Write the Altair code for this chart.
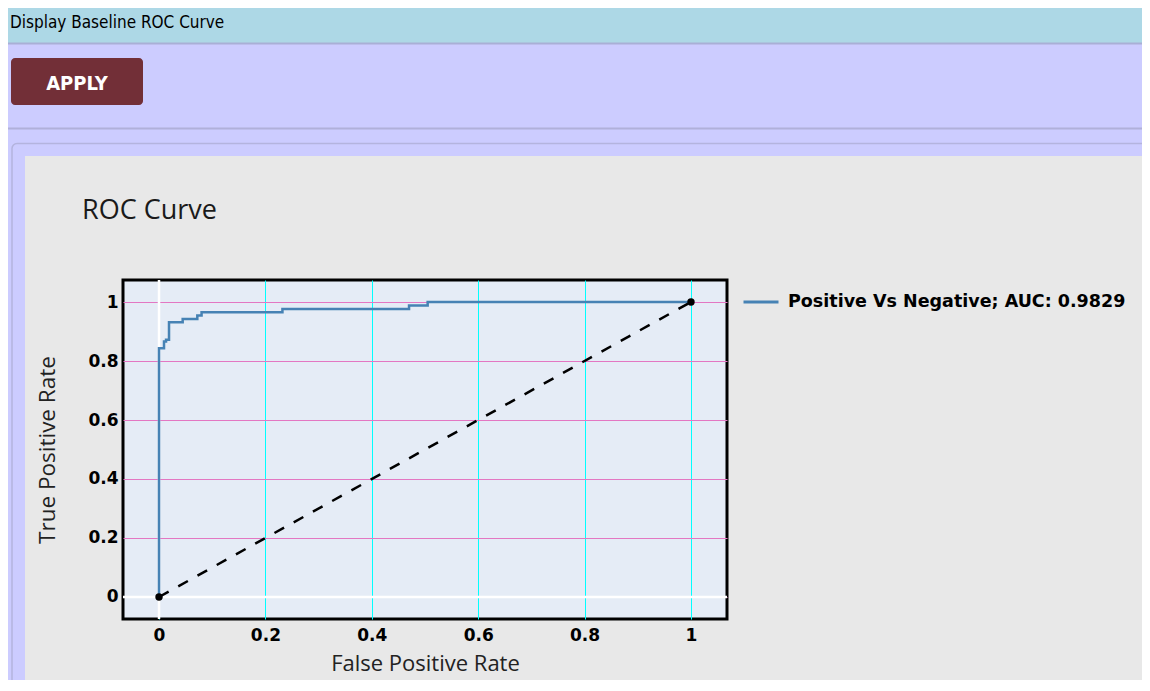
import altair as alt
import pandas as pd

# ---- data ----
fpr = [0.0, 0.0, 0.0094, 0.0094, 0.0132, 0.0132, 0.0188, 0.0188, 0.0445, 0.0445,
       0.072, 0.072, 0.080, 0.080, 0.232, 0.232, 0.470, 0.470, 0.505, 0.505, 1.0]
tpr = [0.0, 0.843, 0.843, 0.866, 0.866, 0.872, 0.872, 0.931, 0.931, 0.942,
       0.942, 0.954, 0.954, 0.965, 0.965, 0.976, 0.976, 0.988, 0.988, 1.0, 1.0]
diag_x = [0.0, 1.0]
diag_y = [0.0, 1.0]
x_ticks = [0, 0.2, 0.4, 0.6, 0.8, 1]
y_ticks = [0, 0.2, 0.4, 0.6, 0.8, 1]
series_label = "Positive Vs Negative; AUC: 0.9829"
chart_title = "ROC Curve"
x_title = "False Positive Rate"
y_title = "True Positive Rate"
header_text = "Display Baseline ROC Curve"
button_text = "APPLY"

roc = pd.DataFrame({"x": fpr, "y": tpr, "i": list(range(len(fpr))), "s": series_label})
diag = pd.DataFrame({"x": diag_x, "y": diag_y})
zero_x = pd.DataFrame({"x": [0.0]})
zero_y = pd.DataFrame({"y": [0.0]})
one = pd.DataFrame({"a": [0]})

# ---- layout constants (page px -> plot-relative px) ----
OX, OY = 123, 280
W, H = 604, 339

LAV = "#CCCCFF"
GRAY = "#E8E8E8"
COND = "DejaVu Sans Condensed, Liberation Sans Narrow, DejaVu Sans, sans-serif"

xscale = alt.Scale(domain=[-0.0677, 1.0677], nice=False, zero=False)
yscale = alt.Scale(domain=[-0.0746, 1.0746], nice=False, zero=False)
xaxis = alt.Axis(values=x_ticks, format="~g", title=x_title, grid=True, gridColor="#00FFFF",
                 gridWidth=1, ticks=False, domain=False, labelFont="DejaVu Sans",
                 labelFontWeight="bold", labelFontSize=17, labelColor="black", labelPadding=8,
                 titleFont="Open Sans", titleFontSize=22, titleFontWeight="normal",
                 titleColor="#222222", titlePadding=10)
yaxis = alt.Axis(values=y_ticks, format="~g", title=y_title, grid=True, gridColor="#E377C2",
                 gridWidth=1, ticks=False, domain=False, labelFont="DejaVu Sans",
                 labelFontWeight="bold", labelFontSize=17, labelColor="black", labelPadding=5,
                 titleFont="Open Sans", titleFontSize=22.5, titleFontWeight="normal",
                 titleColor="#222222", titlePadding=28)


def X(f="x"):
    return alt.X(f"{f}:Q", scale=xscale, axis=xaxis)


def Y(f="y"):
    return alt.Y(f"{f}:Q", scale=yscale, axis=yaxis)


def rect(x1, y1, x2, y2, color, **kw):
    return alt.Chart(one).mark_rect(color=color, **kw).encode(
        x=alt.value(x1 - OX), x2=alt.value(x2 - OX),
        y=alt.value(y1 - OY), y2=alt.value(y2 - OY))


def hline(y, x1, x2, color, w):
    return alt.Chart(one).mark_rule(color=color, strokeWidth=w).encode(
        x=alt.value(x1 - OX), x2=alt.value(x2 - OX), y=alt.value(y - OY))


def text(t, x, y, **kw):
    return alt.Chart(pd.DataFrame({"t": [t]})).mark_text(**kw).encode(
        text="t:N", x=alt.value(x - OX), y=alt.value(y - OY))


# page decoration
top_lav = rect(0, 0, 1150, 156, LAV)
left_lav = rect(0, 156, 25, 700, LAV)
card = alt.Chart(one).mark_rect(filled=False, color="#B4B4DE", strokeWidth=1.5, cornerRadius=5).encode(
    x=alt.value(12 - OX), x2=alt.value(1200 - OX), y=alt.value(143.5 - OY), y2=alt.value(800 - OY))
header = rect(0, 0, 1150, 43, "#ADD8E6")
header_line = hline(43.5, 0, 1150, "#A9AFD6", 2)
divider = hline(128.5, 0, 1150, "#B0B0DA", 2)
button = rect(11, 58, 143, 105, "#722F37", cornerRadius=4)
header_lbl = text(header_text, 10, 28, font=COND, fontSize=17, color="black",
                  align="left", baseline="alphabetic")
button_lbl = text(button_text, 77, 90, font=COND, fontSize=20, fontWeight="bold",
                  color="white", align="center", baseline="alphabetic")
title_lbl = text(chart_title, 82, 219, font="Open Sans", fontSize=27, color="#1a1a1a",
                 align="left", baseline="alphabetic")

# plot layers
zx = alt.Chart(zero_x).mark_rule(color="white", strokeWidth=2.5).encode(x=X())
zy = alt.Chart(zero_y).mark_rule(color="white", strokeWidth=2.5).encode(y=Y())
roc_line = alt.Chart(roc).mark_line(strokeWidth=2.5).encode(
    x=X(), y=Y(), order=alt.Order("i:Q"),
    color=alt.Color("s:N", scale=alt.Scale(domain=[series_label], range=["#4682B4"]),
                    legend=alt.Legend(title=None, orient="none", legendX=619, legendY=3,
                                      symbolType="stroke", symbolSize=1225, symbolStrokeWidth=3,
                                      labelFont="DejaVu Sans", labelFontWeight="bold",
                                      labelFontSize=17.5, labelColor="black", labelOffset=8,
                                      padding=0, labelLimit=600)))
diag_line = alt.Chart(diag).mark_line(color="black", strokeWidth=2.5, strokeDash=[11, 11]).encode(
    x=X(), y=Y())
diag_pts = alt.Chart(diag).mark_point(color="black", filled=True, opacity=1, size=55).encode(
    x=X(), y=Y())

chart = alt.layer(
    top_lav, left_lav, card, header, header_line, divider, button, header_lbl, button_lbl, title_lbl,
    zx, zy, roc_line, diag_line, diag_pts
).properties(
    width=W, height=H,
    autosize=alt.AutoSizeParams(type="none"),
    padding={"left": 115, "top": 272, "right": 415, "bottom": 61},
    background=GRAY,
).configure_view(
    fill="#E5ECF6", stroke="black", strokeWidth=3
)

chart.save("out.html", embed_options={"renderer": "svg", "actions": False})
